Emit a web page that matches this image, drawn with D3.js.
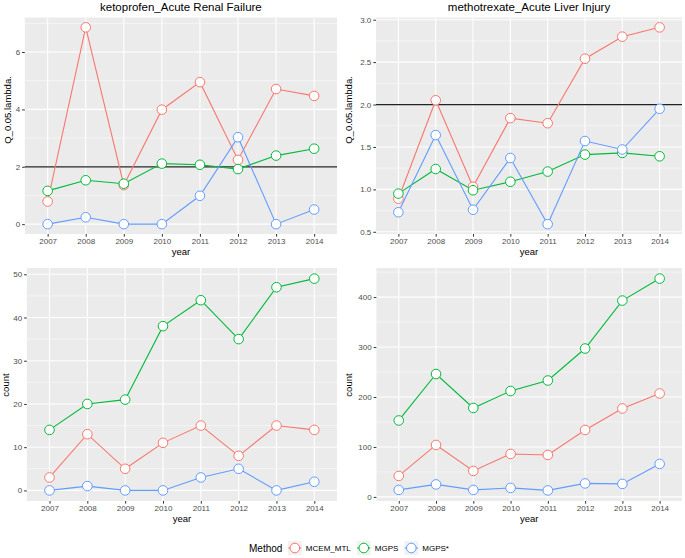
<!DOCTYPE html>
<html>
<head>
<meta charset="utf-8">
<script src="https://cdn.jsdelivr.net/npm/d3@7"></script>
<style>
  body { margin: 0; background: #fff; }
  text { font-family: "Liberation Sans", Arial, sans-serif; }
</style>
</head>
<body>
<svg id="chart" width="685" height="558"></svg>
<script>
// values
var years = ['2007', '2008', '2009', '2010', '2011', '2012', '2013', '2014'];
var methods = ['MCEM_MTL', 'MGPS', 'MGPS*'];

// ketoprofen_Acute Renal Failure, Q_0.05.lambda.
var ketoQ_mcem = [0.79, 6.86, 1.36, 3.99, 4.95, 2.24, 4.71, 4.47];
var ketoQ_mgps = [1.16, 1.53, 1.41, 2.11, 2.07, 1.92, 2.39, 2.63];
var ketoQ_star = [0, 0.24, 0, 0, 0.99, 3.03, 0, 0.51];

// methotrexate_Acute Liver Injury, Q_0.05.lambda.
var methoQ_mcem = [0.89, 2.05, 1.03, 1.84, 1.78, 2.54, 2.80, 2.91];
var methoQ_mgps = [0.95, 1.24, 0.99, 1.09, 1.21, 1.41, 1.43, 1.39];
var methoQ_star = [0.73, 1.64, 0.76, 1.37, 0.59, 1.57, 1.47, 1.95];

// counts
var ketoN_mcem = [3, 13, 5, 11, 15, 8, 15, 14];
var ketoN_mgps = [14, 20, 21, 38, 44, 35, 47, 49];
var ketoN_star = [0, 1, 0, 0, 3, 5, 0, 2];

var methoN_mcem = [42, 104, 52, 86, 84, 134, 177, 207];
var methoN_mgps = [153, 246, 178, 212, 233, 297, 393, 437];
var methoN_star = [14, 25, 14, 18, 13, 27, 26, 66];

var ketoQticks = [0, 2, 4, 6];
var methoQticks = [0.5, 1.0, 1.5, 2.0, 2.5, 3.0];
var ketoNticks = [0, 10, 20, 30, 40, 50];
var methoNticks = [0, 100, 200, 300, 400];
var threshold = 2;

var colors = {'MCEM_MTL': '#F8766D', 'MGPS': '#00BA38', 'MGPS*': '#619CFF'};

var svg = d3.select('#chart');

function panel(cfg) {
    var g = svg.append('g');
    var all = cfg.series.reduce(function(a, s) { return a.concat(s); }, []);
    var lo = d3.min(all), hi = d3.max(all);
    var pad = (hi - lo) * 0.05;
    var xs = d3.scalePoint().domain(years).range([cfg.left, cfg.right]).padding(0.6);
    var ys = d3.scaleLinear().domain([lo - pad, hi + pad]).range([cfg.bottom, cfg.top]);

    g.append('rect')
        .attr('x', cfg.left).attr('y', cfg.top)
        .attr('width', cfg.right - cfg.left).attr('height', cfg.bottom - cfg.top)
        .attr('fill', '#EBEBEB');

    // minor grid
    var step = cfg.ticks[1] - cfg.ticks[0];
    var minors = [];
    for (var i = -1; i < cfg.ticks.length; i++) {
        var m = cfg.ticks[0] + step * (i + 0.5);
        if (m > lo - pad && m < hi + pad) minors.push(m);
    }
    g.selectAll('.minor').data(minors).enter().append('line')
        .attr('x1', cfg.left).attr('x2', cfg.right)
        .attr('y1', function(d) { return ys(d); }).attr('y2', function(d) { return ys(d); })
        .attr('stroke', '#fff').attr('stroke-width', 0.5);
    g.selectAll('.majy').data(cfg.ticks).enter().append('line')
        .attr('x1', cfg.left).attr('x2', cfg.right)
        .attr('y1', function(d) { return ys(d); }).attr('y2', function(d) { return ys(d); })
        .attr('stroke', '#fff').attr('stroke-width', 1.1);
    g.selectAll('.majx').data(years).enter().append('line')
        .attr('x1', function(d) { return xs(d); }).attr('x2', function(d) { return xs(d); })
        .attr('y1', cfg.top).attr('y2', cfg.bottom)
        .attr('stroke', '#fff').attr('stroke-width', 1.1);

    if (cfg.hline) {
        g.append('line')
            .attr('x1', cfg.left).attr('x2', cfg.right)
            .attr('y1', ys(threshold)).attr('y2', ys(threshold))
            .attr('stroke', '#222').attr('stroke-width', 1.2);
    }

    var line = d3.line().x(function(d, i) { return xs(years[i]); }).y(function(d) { return ys(d); });
    cfg.series.forEach(function(s, k) {
        g.append('path').datum(s)
            .attr('d', line).attr('fill', 'none')
            .attr('stroke', colors[methods[k]]).attr('stroke-width', 1.1);
    });
    cfg.series.forEach(function(s, k) {
        g.selectAll('.pt' + k).data(s).enter().append('circle')
            .attr('cx', function(d, i) { return xs(years[i]); })
            .attr('cy', function(d) { return ys(d); })
            .attr('r', 4.8)
            .attr('fill', '#fff')
            .attr('stroke', colors[methods[k]]).attr('stroke-width', 1);
    });

    // axes
    var ax = g.append('g').attr('transform', 'translate(0,' + cfg.bottom + ')')
        .call(d3.axisBottom(xs).tickSize(2.7).tickPadding(2));
    var ay = g.append('g').attr('transform', 'translate(' + cfg.left + ',0)')
        .call(d3.axisLeft(ys).tickValues(cfg.ticks).tickFormat(cfg.fmt).tickSize(2.7).tickPadding(2));
    [ax, ay].forEach(function(a) {
        a.select('.domain').remove();
        a.selectAll('line').attr('stroke', '#333').attr('stroke-width', 1);
        a.selectAll('text').attr('fill', '#4D4D4D')
            .style('font-family', '"Liberation Sans", Arial, sans-serif').style('font-size', '8px');
    });

    g.append('text')
        .attr('x', (cfg.left + cfg.right) / 2).attr('y', cfg.bottom + 21)
        .attr('text-anchor', 'middle').style('font-size', '9.5px').attr('fill', '#000')
        .text('year');
    g.append('text')
        .attr('transform', 'translate(' + cfg.ylabX + ',' + cfg.ylabY + ') rotate(-90)')
        .attr('text-anchor', 'middle').style('font-size', '9.5px').attr('fill', '#000')
        .text(cfg.ylab);
    if (cfg.title) {
        g.append('text')
            .attr('x', (cfg.left + cfg.right) / 2).attr('y', 11)
            .attr('text-anchor', 'middle').style('font-size', '11.5px').attr('fill', '#000')
            .text(cfg.title);
    }
}

panel({ left: 24.8, right: 337, top: 17.5, bottom: 234,
    series: [ketoQ_mcem, ketoQ_mgps, ketoQ_star], ticks: ketoQticks, fmt: d3.format('d'),
    hline: true, title: 'ketoprofen_Acute Renal Failure', ylab: 'Q_0.05.lambda.', ylabX: 11, ylabY: 110 });
panel({ left: 376, right: 682, top: 17.5, bottom: 234,
    series: [methoQ_mcem, methoQ_mgps, methoQ_star], ticks: methoQticks, fmt: d3.format('.1f'),
    hline: true, title: 'methotrexate_Acute Liver Injury', ylab: 'Q_0.05.lambda.', ylabX: 352, ylabY: 110 });
panel({ left: 26.8, right: 337, top: 268, bottom: 501,
    series: [ketoN_mcem, ketoN_mgps, ketoN_star], ticks: ketoNticks, fmt: d3.format('d'),
    hline: false, ylab: 'count', ylabX: 9, ylabY: 385 });
panel({ left: 376.4, right: 682, top: 268, bottom: 501,
    series: [methoN_mcem, methoN_mgps, methoN_star], ticks: methoNticks, fmt: d3.format('d'),
    hline: false, ylab: 'count', ylabX: 352, ylabY: 385 });

// legend
var leg = svg.append('g').attr('transform', 'translate(249,548)');
var lx = 0;
var title = leg.append('text').attr('x', 0).attr('y', 3.5)
    .style('font-size', '10px').attr('fill', '#000').text('Method');
lx = title.node().getComputedTextLength() + 5.5;
methods.forEach(function(m) {
    leg.append('rect').attr('x', lx).attr('y', -7).attr('width', 14).attr('height', 14).attr('fill', '#F2F2F2');
    leg.append('line').attr('x1', lx + 0.5).attr('x2', lx + 13.5).attr('y1', 0).attr('y2', 0)
        .attr('stroke', colors[m]).attr('stroke-width', 1.1);
    leg.append('circle').attr('cx', lx + 7).attr('cy', 0).attr('r', 4.8)
        .attr('fill', '#fff').attr('stroke', colors[m]).attr('stroke-width', 1);
    var t = leg.append('text').attr('x', lx + 18).attr('y', 3)
        .style('font-size', '8px').attr('fill', '#000').text(m);
    lx += 18 + t.node().getComputedTextLength() + 6;
});
</script>
</body>
</html>
